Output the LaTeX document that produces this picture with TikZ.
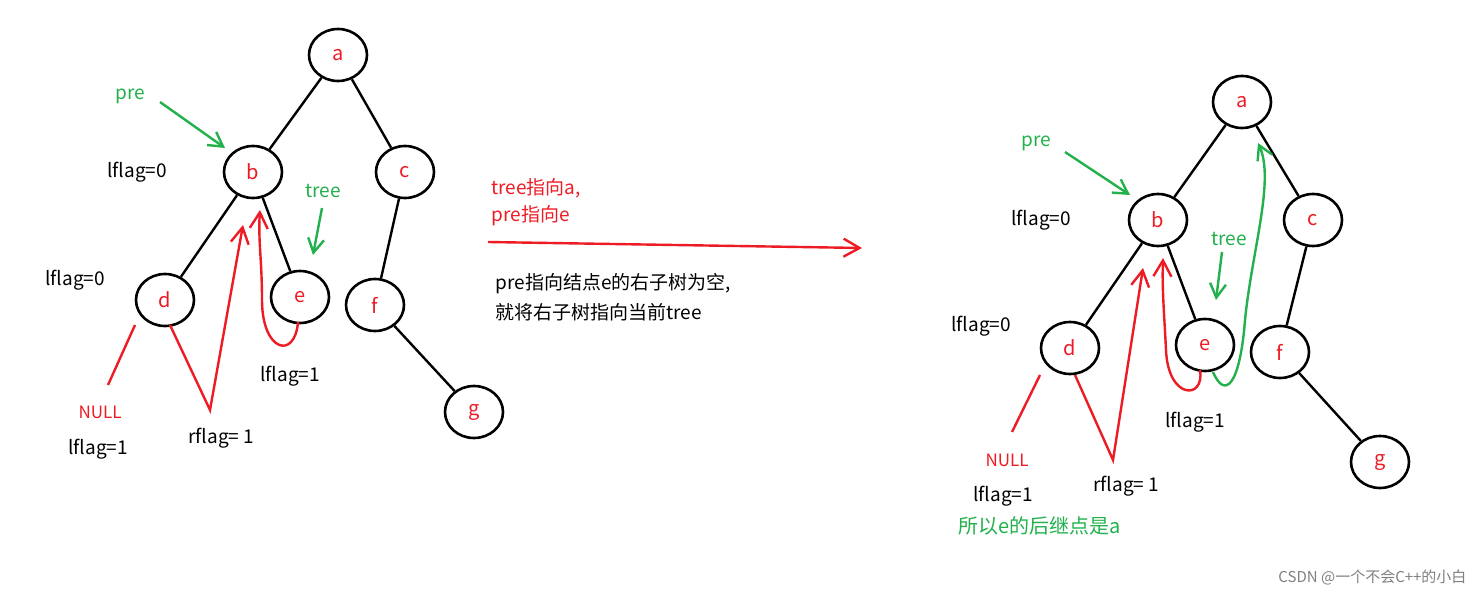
\documentclass[tikz,border=0pt]{standalone}
\usepackage{fontspec}
\setmainfont{Noto Sans CJK SC}
\usetikzlibrary{arrows.meta,shapes.geometric}
\definecolor{rd}{RGB}{237,28,36}
\definecolor{gr}{RGB}{34,177,76}
\tikzset{x=1pt,y=-1pt,
 nd/.style={draw,line width=2.6pt,ellipse,minimum width=58pt,minimum height=52pt,inner sep=0pt,text=rd,font=\fontsize{20}{20}\selectfont},
 ed/.style={line width=2.4pt},
 ra/.style={draw=rd,line width=2.4pt,-{Straight Barb[length=16pt,width=18pt]}},
 rl/.style={draw=rd,line width=2.4pt},
 ga/.style={draw=gr,line width=2.4pt,-{Straight Barb[length=14pt,width=16pt]}},
 bl/.style={font=\fontsize{19}{19}\selectfont,anchor=west},
 gl/.style={bl,text=gr},
 rt/.style={bl,text=rd}}
\begin{document}
\begin{tikzpicture}
\useasboundingbox[fill=white] (0,0) rectangle (1482,596);
% left tree
\node[nd] (a) at (338,55) {a};
\node[nd] (b) at (253,172) {b};
\node[nd] (c) at (405,172) {c};
\node[nd] (d) at (165,300) {d};
\node[nd] (e) at (300,297) {e};
\node[nd] (f) at (375,305) {f};
\node[nd] (g) at (474,412) {g};
\draw[ed] (a)--(b); \draw[ed] (a)--(c); \draw[ed] (b)--(d); \draw[ed] (b)--(e);
\draw[ed] (c)--(f); \draw[ed] (f)--(g);
\node[gl] (p1) at (112,96) {pre};
\draw[ga] (160,102)--(225,148);
\node[gl] (t1) at (302,191) {tree};
\draw[ga] (322,208)--(313,255);
\node[bl] at (104,172) {lflag=0};
\node[bl] at (42,280) {lflag=0};
\node[bl] at (257,376) {lflag=1};
\node[rt,font=\fontsize{17}{17}\selectfont] at (75,412) {NULL};
\node[bl] at (65,449) {lflag=1};
\node[bl] at (185,438) {rflag= 1};
\draw[rl] (135,325)--(108,385);
\draw[ra] (170,325)--(210,410)--(243,225);
\draw[ra] (298,322) .. controls (295,360) and (262,352) .. (262,300) .. controls (262,260) and (258,240) .. (260,210);
% middle
\node[rt] at (488,188) {tree指向a,};
\node[rt] at (488,216) {pre指向e};
\draw[ra] (488,242)--(862,248);
\node[bl] at (492,284) {pre指向结点e的右子树为空,};
\node[bl] at (492,312) {就将右子树指向当前tree};
% right tree
\node[nd] (A) at (1242,102) {a};
\node[nd] (B) at (1158,220) {b};
\node[nd] (C) at (1313,220) {c};
\node[nd] (D) at (1070,348) {d};
\node[nd] (E) at (1205,345) {e};
\node[nd] (F) at (1280,352) {f};
\node[nd] (G) at (1380,462) {g};
\draw[ed] (A)--(B); \draw[ed] (A)--(C); \draw[ed] (B)--(D); \draw[ed] (B)--(E);
\draw[ed] (C)--(F); \draw[ed] (F)--(G);
\node[gl] at (1018,143) {pre};
\draw[ga] (1065,152)--(1130,195);
\node[gl] at (1208,239) {tree};
\draw[ga] (1222,252)--(1216,300);
\node[bl] at (1008,220) {lflag=0};
\node[bl] at (948,326) {lflag=0};
\node[bl] at (1162,422) {lflag=1};
\node[rt,font=\fontsize{17}{17}\selectfont] at (982,460) {NULL};
\node[bl] at (970,496) {lflag=1};
\node[bl] at (1090,486) {rflag= 1};
\node[gl,font=\fontsize{20}{20}\selectfont] at (955,526) {所以e的后继点是a};
\draw[rl] (1040,375)--(1012,432);
\draw[ra] (1075,375)--(1113,460)--(1143,268);
\draw[ra] (1200,370) .. controls (1205,400) and (1168,400) .. (1166,350) .. controls (1164,310) and (1162,290) .. (1163,258);
\draw[ga] (1213,372) .. controls (1225,400) and (1240,385) .. (1245,320) .. controls (1252,250) and (1275,180) .. (1258,143);
\node[anchor=east,text=gray,font=\fontsize{15}{15}\selectfont] at (1470,577) {CSDN @一个不会C++的小白};
\end{tikzpicture}
\end{document}
